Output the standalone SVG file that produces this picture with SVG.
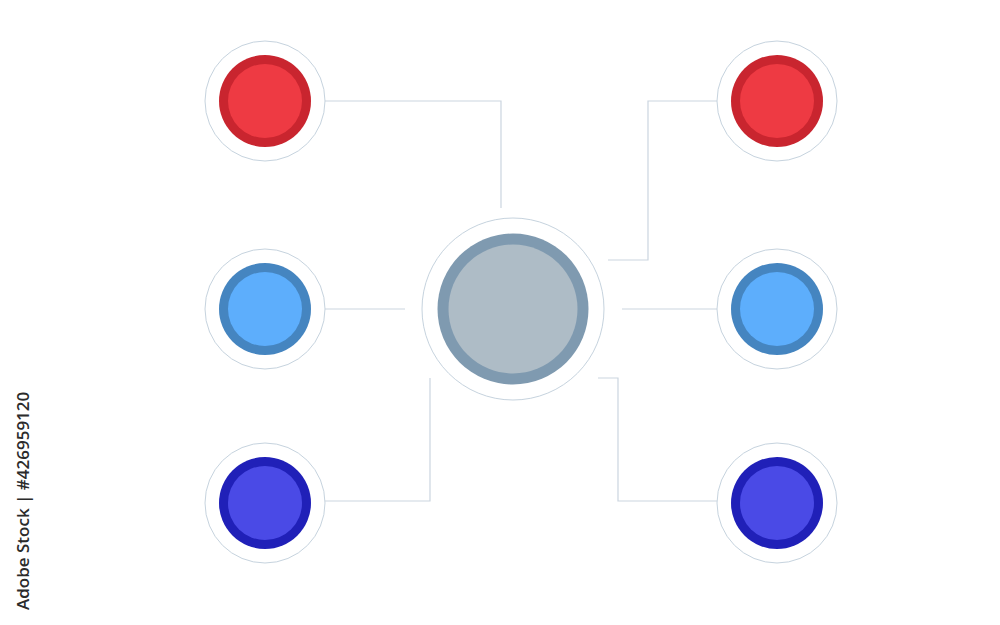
<svg xmlns="http://www.w3.org/2000/svg" width="1000" height="625" viewBox="0 0 1000 625">
<style>
.ring{fill:#fff;stroke:#c6d3de;stroke-width:1}
.conn{fill:none;stroke:#cbd5df;stroke-width:1.2}
.red .d{fill:#c9252f}.red .l{fill:#ee3a43}
.sky .d{fill:#4585c0}.sky .l{fill:#5daefc}
.ind .d{fill:#2020b8}.ind .l{fill:#4a4ae6}
.gray .d{fill:#7f9ab0}.gray .l{fill:#aebcc6}
.wm{font-family:"Open Sans","Liberation Sans",sans-serif;font-size:17px;font-weight:600;fill:#2b2b2b}
</style>
<rect width="1000" height="625" fill="#fff"/>
<g id="connectors">
<polyline class="conn" points="325,101 501,101 501,208"/>
<polyline class="conn" points="608,260 648,260 648,101 717,101"/>
<polyline class="conn" points="325,309 405,309"/>
<polyline class="conn" points="622,309 717,309"/>
<polyline class="conn" points="325,501 430,501 430,378"/>
<polyline class="conn" points="598,378 618,378 618,501 717,501"/>
</g>
<g id="center" class="gray">
<circle class="ring" cx="513" cy="309" r="91"/>
<circle class="d" cx="513" cy="309" r="75.5"/>
<circle class="l" cx="513" cy="309" r="64.5"/>
</g>
<g id="node-tl" class="red">
<circle class="ring" cx="265" cy="101" r="60"/>
<circle class="d" cx="265" cy="101" r="46"/>
<circle class="l" cx="265" cy="101" r="37"/>
</g>
<g id="node-tr" class="red">
<circle class="ring" cx="777" cy="101" r="60"/>
<circle class="d" cx="777" cy="101" r="46"/>
<circle class="l" cx="777" cy="101" r="37"/>
</g>
<g id="node-ml" class="sky">
<circle class="ring" cx="265" cy="309" r="60"/>
<circle class="d" cx="265" cy="309" r="46"/>
<circle class="l" cx="265" cy="309" r="37"/>
</g>
<g id="node-mr" class="sky">
<circle class="ring" cx="777" cy="309" r="60"/>
<circle class="d" cx="777" cy="309" r="46"/>
<circle class="l" cx="777" cy="309" r="37"/>
</g>
<g id="node-bl" class="ind">
<circle class="ring" cx="265" cy="503" r="60"/>
<circle class="d" cx="265" cy="503" r="46"/>
<circle class="l" cx="265" cy="503" r="37"/>
</g>
<g id="node-br" class="ind">
<circle class="ring" cx="777" cy="503" r="60"/>
<circle class="d" cx="777" cy="503" r="46"/>
<circle class="l" cx="777" cy="503" r="37"/>
</g>
<text class="wm" transform="translate(29,610) rotate(-90)">Adobe Stock | #426959120</text>
</svg>
